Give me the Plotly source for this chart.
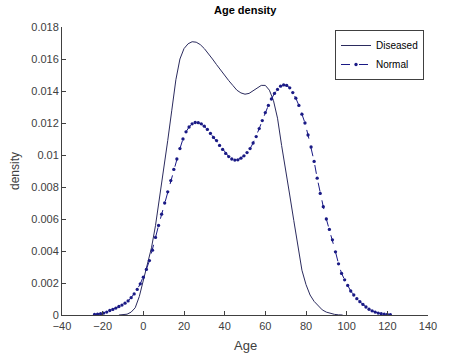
import plotly.graph_objects as go

# Diseased density curve (solid line)
diseased_x = [-12, -10, -8, -6, -4, -2, 0, 2, 4, 6, 8, 10, 12, 14, 16, 18, 20, 22, 24, 26,
              28, 30, 32, 34, 36, 38, 40, 42, 44, 46, 48, 50, 52, 54, 56, 58, 60, 62, 64, 66,
              68, 70, 72, 74, 76, 78, 80, 82, 84, 86, 88, 90, 92, 94, 96, 98]
diseased_y = [0.0, 0.00001, 0.00005, 0.00018, 0.00045, 0.00115, 0.00215, 0.00315, 0.0042, 0.0056,
              0.0073, 0.0091, 0.0109, 0.0128, 0.0147, 0.0160, 0.01665, 0.01695, 0.01708, 0.01705,
              0.0169, 0.01665, 0.01635, 0.0160, 0.01565, 0.0153, 0.01495, 0.01465, 0.01435, 0.01405,
              0.01388, 0.0138, 0.01385, 0.0140, 0.0142, 0.01435, 0.01435, 0.01405, 0.0134, 0.0123,
              0.0106, 0.0089, 0.0075, 0.0059, 0.0043, 0.0028, 0.0019, 0.00125, 0.00085, 0.00055,
              0.00032, 0.00018, 0.00009, 0.00004, 0.00001, 0.0]

# Normal density curve (dashed line with markers)
normal_x = [-24, -22.5, -21, -19.5, -18, -16.5, -15, -13.5, -12, -10.5, -9, -7.5, -6, -4.5, -3,
            -1.5, 0, 1.5, 3, 4.5, 6, 7.5, 9, 10.5, 12, 13.5, 15, 16.5, 18, 19.5, 21, 22.5, 24,
            25.5, 27, 28.5, 30, 31.5, 33, 34.5, 36, 37.5, 39, 40.5, 42, 43.5, 45, 46.5, 48, 49.5,
            51, 52.5, 54, 55.5, 57, 58.5, 60, 61.5, 63, 64.5, 66, 67.5, 69, 70.5, 72, 73.5, 75,
            76.5, 78, 79.5, 81, 82.5, 84, 85.5, 87, 88.5, 90, 91.5, 93, 94.5, 96, 97.5, 99, 100.5,
            102, 103.5, 105, 106.5, 108, 109.5, 111, 112.5, 114, 115.5, 117, 118.5, 120, 121.5]
normal_y = [0.00003, 0.00005, 0.00008, 0.00012, 0.00018, 0.00028, 0.00035, 0.00043, 0.00053, 0.00062,
            0.00074, 0.00088, 0.00108, 0.00132, 0.0016, 0.00195, 0.00236, 0.00285, 0.0034, 0.00405,
            0.00485, 0.0056, 0.0063, 0.0070, 0.0077, 0.0084, 0.0091, 0.00975, 0.0104, 0.0110,
            0.01145, 0.01175, 0.01195, 0.01203, 0.01202, 0.01195, 0.0118, 0.0116, 0.01135, 0.0111,
            0.0109, 0.0106, 0.01035, 0.0101, 0.0099, 0.00975, 0.00968, 0.0097, 0.0098, 0.00995,
            0.01015, 0.0104, 0.01075, 0.01115, 0.01165, 0.01215, 0.01265, 0.0131, 0.0135, 0.01385,
            0.0141, 0.0143, 0.01438, 0.01435, 0.0142, 0.0139, 0.01355, 0.0131, 0.01255, 0.0120,
            0.01125, 0.0105, 0.0096, 0.00855, 0.0076, 0.00677, 0.0060, 0.00535, 0.0047, 0.00395,
            0.0032, 0.0026, 0.0022, 0.00185, 0.0015, 0.00125, 0.00102, 0.00083, 0.00066, 0.0005,
            0.00036, 0.00026, 0.00018, 0.00012, 0.00008, 0.00005, 0.00003, 0.00002]

series_names = ["Diseased", "Normal"]
x_ticks = [-40, -20, 0, 20, 40, 60, 80, 100, 120, 140]
y_ticks = [0, 0.002, 0.004, 0.006, 0.008, 0.01, 0.012, 0.014, 0.016, 0.018]
y_tick_labels = ["0", "0.002", "0.004", "0.006", "0.008", "0.01", "0.012", "0.014", "0.016", "0.018"]

font_family = "Liberation Sans, Arial, sans-serif"
axis_color = "#404040"

fig = go.Figure()
fig.add_trace(go.Scatter(
    x=diseased_x, y=diseased_y, mode="lines", name=series_names[0],
    line=dict(color="#2b2b5e", width=1),
))
fig.add_trace(go.Scatter(
    x=normal_x, y=normal_y, mode="lines+markers", name=series_names[1],
    line=dict(color="#1a1a85", width=1, dash="dash"),
    marker=dict(color="#1a1a85", size=3.3, symbol="circle"),
))

fig.update_layout(
    width=474, height=355,
    margin=dict(l=62, r=46, t=27, b=40, autoexpand=False),
    paper_bgcolor="white", plot_bgcolor="white",
    font=dict(family=font_family, size=11, color=axis_color),
    showlegend=True,
    legend=dict(
        x=(424 - 62) / 366, y=(315 - 30) / 288, xanchor="right", yanchor="top",
        bordercolor="#404040", borderwidth=1, bgcolor="white",
        font=dict(family=font_family, size=10, color="#000000"),
        tracegroupgap=0, itemwidth=30,
    ),
    annotations=[
        dict(text="<b>Age density</b>", xref="paper", yref="paper",
             x=0.5, y=(315 - 10) / 288, xanchor="center", yanchor="middle", showarrow=False,
             font=dict(family=font_family, size=11, color="#000000")),
        dict(text="Age", xref="paper", yref="paper",
             x=0.5, y=(315 - 345) / 288, xanchor="center", yanchor="middle", showarrow=False,
             font=dict(family=font_family, size=13, color=axis_color)),
        dict(text="density", xref="paper", yref="paper", textangle=-90,
             x=(15 - 62) / 366, y=0.5, xanchor="center", yanchor="middle", showarrow=False,
             font=dict(family=font_family, size=12, color=axis_color)),
    ],
)
fig.update_xaxes(
    range=[-40, 140], tickvals=x_ticks, ticks="inside", ticklen=4, tickcolor=axis_color,
    showline=True, linecolor=axis_color, linewidth=1, mirror=False, showgrid=False, zeroline=False,
    automargin=False, ticklabelstandoff=1,
)
fig.update_yaxes(
    range=[0, 0.018], tickvals=y_ticks, ticktext=y_tick_labels, ticks="inside", ticklen=4,
    tickcolor=axis_color, showline=True, linecolor=axis_color, linewidth=1, mirror=False,
    showgrid=False, zeroline=False, automargin=False,
)

fig.write_html("out.html", config={"displayModeBar": False},
               post_script="document.body.style.margin='0';")
